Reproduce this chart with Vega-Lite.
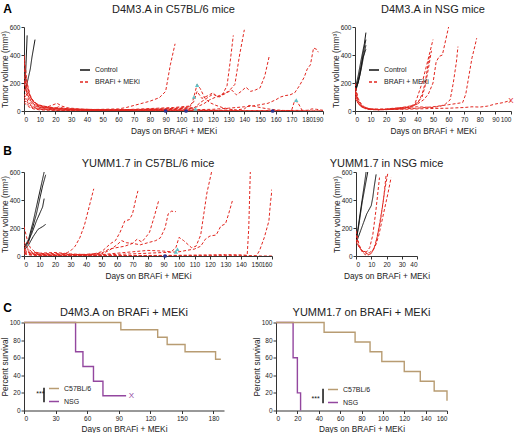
{
  "$schema": "https://vega.github.io/schema/vega-lite/v6.json",
  "padding": {"left": 0, "top": 3, "right": 0, "bottom": 0},
  "config": {
    "font": "Liberation Sans",
    "view": {"stroke": null},
    "axis": {"labelFontSize": 6.5, "titleFontSize": 8.3, "titleFontWeight": "normal", "labelColor": "#222", "titleColor": "#222", "domainColor": "#333", "tickColor": "#333", "grid": false, "tickSize": 3, "labelPadding": 2, "titlePadding": 4, "labelOverlap": false, "format": "d"},
    "axisY": {"titlePadding": 0, "labelPadding": 1},
    "title": {"fontSize": 11, "fontWeight": "normal", "color": "#222", "offset": 6},
    "legend": {"labelFontSize": 7, "labelColor": "#222", "rowPadding": 3}
  },
  "datasets": {
    "aL": [
      {"id":"c1","group":"Control","day":0,"vol":100},{"id":"c1","group":"Control","day":1,"vol":260},{"id":"c1","group":"Control","day":2,"vol":540},
      {"id":"c2","group":"Control","day":0,"vol":130},{"id":"c2","group":"Control","day":2,"vol":200},{"id":"c2","group":"Control","day":4,"vol":300},{"id":"c2","group":"Control","day":5,"vol":380},{"id":"c2","group":"Control","day":7,"vol":510},
      {"id":"r1","group":"BRAFi + MEKi","day":0,"vol":380},{"id":"r1","group":"BRAFi + MEKi","day":1,"vol":250},{"id":"r1","group":"BRAFi + MEKi","day":3,"vol":130},{"id":"r1","group":"BRAFi + MEKi","day":5,"vol":80},{"id":"r1","group":"BRAFi + MEKi","day":8,"vol":45},{"id":"r1","group":"BRAFi + MEKi","day":12,"vol":30},{"id":"r1","group":"BRAFi + MEKi","day":16,"vol":22},{"id":"r1","group":"BRAFi + MEKi","day":20,"vol":18},{"id":"r1","group":"BRAFi + MEKi","day":30,"vol":12},{"id":"r1","group":"BRAFi + MEKi","day":40,"vol":10},{"id":"r1","group":"BRAFi + MEKi","day":50,"vol":12},{"id":"r1","group":"BRAFi + MEKi","day":60,"vol":15},{"id":"r1","group":"BRAFi + MEKi","day":65,"vol":25},{"id":"r1","group":"BRAFi + MEKi","day":70,"vol":40},{"id":"r1","group":"BRAFi + MEKi","day":75,"vol":55},{"id":"r1","group":"BRAFi + MEKi","day":80,"vol":70},{"id":"r1","group":"BRAFi + MEKi","day":86,"vol":95},{"id":"r1","group":"BRAFi + MEKi","day":90,"vol":140},{"id":"r1","group":"BRAFi + MEKi","day":93,"vol":330},{"id":"r1","group":"BRAFi + MEKi","day":96,"vol":480},
      {"id":"r2","group":"BRAFi + MEKi","day":0,"vol":300},{"id":"r2","group":"BRAFi + MEKi","day":2,"vol":180},{"id":"r2","group":"BRAFi + MEKi","day":4,"vol":100},{"id":"r2","group":"BRAFi + MEKi","day":7,"vol":60},{"id":"r2","group":"BRAFi + MEKi","day":10,"vol":40},{"id":"r2","group":"BRAFi + MEKi","day":15,"vol":30},{"id":"r2","group":"BRAFi + MEKi","day":18,"vol":42},{"id":"r2","group":"BRAFi + MEKi","day":21,"vol":55},{"id":"r2","group":"BRAFi + MEKi","day":24,"vol":35},{"id":"r2","group":"BRAFi + MEKi","day":28,"vol":22},{"id":"r2","group":"BRAFi + MEKi","day":35,"vol":15},{"id":"r2","group":"BRAFi + MEKi","day":45,"vol":10},{"id":"r2","group":"BRAFi + MEKi","day":55,"vol":8},{"id":"r2","group":"BRAFi + MEKi","day":65,"vol":10},{"id":"r2","group":"BRAFi + MEKi","day":75,"vol":15},{"id":"r2","group":"BRAFi + MEKi","day":85,"vol":20},{"id":"r2","group":"BRAFi + MEKi","day":95,"vol":25},{"id":"r2","group":"BRAFi + MEKi","day":100,"vol":30},{"id":"r2","group":"BRAFi + MEKi","day":105,"vol":35},{"id":"r2","group":"BRAFi + MEKi","day":107,"vol":60},{"id":"r2","group":"BRAFi + MEKi","day":110,"vol":190},{"id":"r2","group":"BRAFi + MEKi","day":112,"vol":160},{"id":"r2","group":"BRAFi + MEKi","day":115,"vol":90},{"id":"r2","group":"BRAFi + MEKi","day":118,"vol":60},{"id":"r2","group":"BRAFi + MEKi","day":122,"vol":40},{"id":"r2","group":"BRAFi + MEKi","day":126,"vol":25},{"id":"r2","group":"BRAFi + MEKi","day":130,"vol":15},{"id":"r2","group":"BRAFi + MEKi","day":135,"vol":5},
      {"id":"r3","group":"BRAFi + MEKi","day":0,"vol":250},{"id":"r3","group":"BRAFi + MEKi","day":2,"vol":150},{"id":"r3","group":"BRAFi + MEKi","day":5,"vol":80},{"id":"r3","group":"BRAFi + MEKi","day":8,"vol":50},{"id":"r3","group":"BRAFi + MEKi","day":12,"vol":35},{"id":"r3","group":"BRAFi + MEKi","day":18,"vol":25},{"id":"r3","group":"BRAFi + MEKi","day":25,"vol":18},{"id":"r3","group":"BRAFi + MEKi","day":35,"vol":12},{"id":"r3","group":"BRAFi + MEKi","day":45,"vol":8},{"id":"r3","group":"BRAFi + MEKi","day":55,"vol":6},{"id":"r3","group":"BRAFi + MEKi","day":65,"vol":8},{"id":"r3","group":"BRAFi + MEKi","day":75,"vol":10},{"id":"r3","group":"BRAFi + MEKi","day":85,"vol":14},{"id":"r3","group":"BRAFi + MEKi","day":95,"vol":18},{"id":"r3","group":"BRAFi + MEKi","day":100,"vol":20},{"id":"r3","group":"BRAFi + MEKi","day":105,"vol":25},{"id":"r3","group":"BRAFi + MEKi","day":108,"vol":70},{"id":"r3","group":"BRAFi + MEKi","day":110,"vol":140},{"id":"r3","group":"BRAFi + MEKi","day":113,"vol":90},{"id":"r3","group":"BRAFi + MEKi","day":117,"vol":110},{"id":"r3","group":"BRAFi + MEKi","day":120,"vol":130},{"id":"r3","group":"BRAFi + MEKi","day":123,"vol":100},{"id":"r3","group":"BRAFi + MEKi","day":126,"vol":115},{"id":"r3","group":"BRAFi + MEKi","day":129,"vol":180},{"id":"r3","group":"BRAFi + MEKi","day":131,"vol":350},{"id":"r3","group":"BRAFi + MEKi","day":133,"vol":540},
      {"id":"r4","group":"BRAFi + MEKi","day":0,"vol":200},{"id":"r4","group":"BRAFi + MEKi","day":3,"vol":100},{"id":"r4","group":"BRAFi + MEKi","day":6,"vol":55},{"id":"r4","group":"BRAFi + MEKi","day":10,"vol":30},{"id":"r4","group":"BRAFi + MEKi","day":15,"vol":22},{"id":"r4","group":"BRAFi + MEKi","day":25,"vol":15},{"id":"r4","group":"BRAFi + MEKi","day":35,"vol":10},{"id":"r4","group":"BRAFi + MEKi","day":50,"vol":8},{"id":"r4","group":"BRAFi + MEKi","day":65,"vol":10},{"id":"r4","group":"BRAFi + MEKi","day":80,"vol":12},{"id":"r4","group":"BRAFi + MEKi","day":95,"vol":15},{"id":"r4","group":"BRAFi + MEKi","day":105,"vol":20},{"id":"r4","group":"BRAFi + MEKi","day":110,"vol":30},{"id":"r4","group":"BRAFi + MEKi","day":114,"vol":50},{"id":"r4","group":"BRAFi + MEKi","day":118,"vol":80},{"id":"r4","group":"BRAFi + MEKi","day":122,"vol":100},{"id":"r4","group":"BRAFi + MEKi","day":126,"vol":120},{"id":"r4","group":"BRAFi + MEKi","day":130,"vol":140},{"id":"r4","group":"BRAFi + MEKi","day":134,"vol":190},{"id":"r4","group":"BRAFi + MEKi","day":137,"vol":400},{"id":"r4","group":"BRAFi + MEKi","day":140,"vol":580},
      {"id":"r5","group":"BRAFi + MEKi","day":0,"vol":160},{"id":"r5","group":"BRAFi + MEKi","day":3,"vol":80},{"id":"r5","group":"BRAFi + MEKi","day":6,"vol":40},{"id":"r5","group":"BRAFi + MEKi","day":10,"vol":25},{"id":"r5","group":"BRAFi + MEKi","day":20,"vol":15},{"id":"r5","group":"BRAFi + MEKi","day":30,"vol":10},{"id":"r5","group":"BRAFi + MEKi","day":40,"vol":8},{"id":"r5","group":"BRAFi + MEKi","day":60,"vol":6},{"id":"r5","group":"BRAFi + MEKi","day":80,"vol":8},{"id":"r5","group":"BRAFi + MEKi","day":100,"vol":12},{"id":"r5","group":"BRAFi + MEKi","day":108,"vol":20},{"id":"r5","group":"BRAFi + MEKi","day":112,"vol":60},{"id":"r5","group":"BRAFi + MEKi","day":116,"vol":90},{"id":"r5","group":"BRAFi + MEKi","day":120,"vol":120},{"id":"r5","group":"BRAFi + MEKi","day":124,"vol":100},{"id":"r5","group":"BRAFi + MEKi","day":128,"vol":125},{"id":"r5","group":"BRAFi + MEKi","day":132,"vol":150},{"id":"r5","group":"BRAFi + MEKi","day":135,"vol":115},{"id":"r5","group":"BRAFi + MEKi","day":138,"vol":140},{"id":"r5","group":"BRAFi + MEKi","day":141,"vol":170},{"id":"r5","group":"BRAFi + MEKi","day":144,"vol":140},{"id":"r5","group":"BRAFi + MEKi","day":147,"vol":150},{"id":"r5","group":"BRAFi + MEKi","day":150,"vol":165},{"id":"r5","group":"BRAFi + MEKi","day":153,"vol":250},{"id":"r5","group":"BRAFi + MEKi","day":156,"vol":400},
      {"id":"r6","group":"BRAFi + MEKi","day":0,"vol":120},{"id":"r6","group":"BRAFi + MEKi","day":3,"vol":60},{"id":"r6","group":"BRAFi + MEKi","day":6,"vol":30},{"id":"r6","group":"BRAFi + MEKi","day":10,"vol":18},{"id":"r6","group":"BRAFi + MEKi","day":20,"vol":10},{"id":"r6","group":"BRAFi + MEKi","day":30,"vol":8},{"id":"r6","group":"BRAFi + MEKi","day":40,"vol":6},{"id":"r6","group":"BRAFi + MEKi","day":60,"vol":5},{"id":"r6","group":"BRAFi + MEKi","day":80,"vol":6},{"id":"r6","group":"BRAFi + MEKi","day":100,"vol":8},{"id":"r6","group":"BRAFi + MEKi","day":110,"vol":10},{"id":"r6","group":"BRAFi + MEKi","day":120,"vol":12},{"id":"r6","group":"BRAFi + MEKi","day":130,"vol":20},{"id":"r6","group":"BRAFi + MEKi","day":140,"vol":30},{"id":"r6","group":"BRAFi + MEKi","day":145,"vol":35},{"id":"r6","group":"BRAFi + MEKi","day":150,"vol":45},{"id":"r6","group":"BRAFi + MEKi","day":155,"vol":55},{"id":"r6","group":"BRAFi + MEKi","day":160,"vol":80},{"id":"r6","group":"BRAFi + MEKi","day":163,"vol":100},{"id":"r6","group":"BRAFi + MEKi","day":166,"vol":110},{"id":"r6","group":"BRAFi + MEKi","day":169,"vol":115},{"id":"r6","group":"BRAFi + MEKi","day":172,"vol":130},{"id":"r6","group":"BRAFi + MEKi","day":175,"vol":180},{"id":"r6","group":"BRAFi + MEKi","day":178,"vol":240},{"id":"r6","group":"BRAFi + MEKi","day":180,"vol":300},{"id":"r6","group":"BRAFi + MEKi","day":182,"vol":330},{"id":"r6","group":"BRAFi + MEKi","day":184,"vol":450},{"id":"r6","group":"BRAFi + MEKi","day":186,"vol":440},{"id":"r6","group":"BRAFi + MEKi","day":187,"vol":420},
      {"id":"r7","group":"BRAFi + MEKi","day":0,"vol":100},{"id":"r7","group":"BRAFi + MEKi","day":3,"vol":50},{"id":"r7","group":"BRAFi + MEKi","day":6,"vol":25},{"id":"r7","group":"BRAFi + MEKi","day":10,"vol":15},{"id":"r7","group":"BRAFi + MEKi","day":20,"vol":8},{"id":"r7","group":"BRAFi + MEKi","day":40,"vol":5},{"id":"r7","group":"BRAFi + MEKi","day":60,"vol":4},{"id":"r7","group":"BRAFi + MEKi","day":80,"vol":5},{"id":"r7","group":"BRAFi + MEKi","day":100,"vol":6},{"id":"r7","group":"BRAFi + MEKi","day":120,"vol":5},{"id":"r7","group":"BRAFi + MEKi","day":135,"vol":8},{"id":"r7","group":"BRAFi + MEKi","day":140,"vol":15},{"id":"r7","group":"BRAFi + MEKi","day":143,"vol":40},{"id":"r7","group":"BRAFi + MEKi","day":146,"vol":35},{"id":"r7","group":"BRAFi + MEKi","day":150,"vol":25},{"id":"r7","group":"BRAFi + MEKi","day":155,"vol":15},{"id":"r7","group":"BRAFi + MEKi","day":160,"vol":8},{"id":"r7","group":"BRAFi + MEKi","day":165,"vol":4},{"id":"r7","group":"BRAFi + MEKi","day":170,"vol":3},{"id":"r7","group":"BRAFi + MEKi","day":172,"vol":75},{"id":"r7","group":"BRAFi + MEKi","day":174,"vol":60},{"id":"r7","group":"BRAFi + MEKi","day":177,"vol":0},
      {"id":"r8","group":"BRAFi + MEKi","day":0,"vol":80},{"id":"r8","group":"BRAFi + MEKi","day":3,"vol":40},{"id":"r8","group":"BRAFi + MEKi","day":6,"vol":20},{"id":"r8","group":"BRAFi + MEKi","day":10,"vol":12},{"id":"r8","group":"BRAFi + MEKi","day":20,"vol":6},{"id":"r8","group":"BRAFi + MEKi","day":40,"vol":4},{"id":"r8","group":"BRAFi + MEKi","day":60,"vol":3},{"id":"r8","group":"BRAFi + MEKi","day":80,"vol":4},{"id":"r8","group":"BRAFi + MEKi","day":100,"vol":3},{"id":"r8","group":"BRAFi + MEKi","day":120,"vol":3},{"id":"r8","group":"BRAFi + MEKi","day":140,"vol":2},{"id":"r8","group":"BRAFi + MEKi","day":160,"vol":3},{"id":"r8","group":"BRAFi + MEKi","day":180,"vol":5},{"id":"r8","group":"BRAFi + MEKi","day":183,"vol":15},{"id":"r8","group":"BRAFi + MEKi","day":186,"vol":12},{"id":"r8","group":"BRAFi + MEKi","day":190,"vol":5},
      {"id":"r9","group":"BRAFi + MEKi","day":0,"vol":60},{"id":"r9","group":"BRAFi + MEKi","day":3,"vol":30},{"id":"r9","group":"BRAFi + MEKi","day":6,"vol":15},{"id":"r9","group":"BRAFi + MEKi","day":10,"vol":8},{"id":"r9","group":"BRAFi + MEKi","day":20,"vol":4},{"id":"r9","group":"BRAFi + MEKi","day":40,"vol":3},{"id":"r9","group":"BRAFi + MEKi","day":60,"vol":2},{"id":"r9","group":"BRAFi + MEKi","day":80,"vol":3},{"id":"r9","group":"BRAFi + MEKi","day":100,"vol":2},{"id":"r9","group":"BRAFi + MEKi","day":140,"vol":2},{"id":"r9","group":"BRAFi + MEKi","day":160,"vol":1},{"id":"r9","group":"BRAFi + MEKi","day":190,"vol":1},
      {"id":"r10","group":"BRAFi + MEKi","day":0,"vol":220},{"id":"r10","group":"BRAFi + MEKi","day":2,"vol":120},{"id":"r10","group":"BRAFi + MEKi","day":5,"vol":60},{"id":"r10","group":"BRAFi + MEKi","day":8,"vol":35},{"id":"r10","group":"BRAFi + MEKi","day":12,"vol":25},{"id":"r10","group":"BRAFi + MEKi","day":20,"vol":20},{"id":"r10","group":"BRAFi + MEKi","day":22,"vol":30},{"id":"r10","group":"BRAFi + MEKi","day":25,"vol":20},{"id":"r10","group":"BRAFi + MEKi","day":30,"vol":12},{"id":"r10","group":"BRAFi + MEKi","day":40,"vol":8},{"id":"r10","group":"BRAFi + MEKi","day":50,"vol":5},{"id":"r10","group":"BRAFi + MEKi","day":60,"vol":4},{"id":"r10","group":"BRAFi + MEKi","day":70,"vol":6},{"id":"r10","group":"BRAFi + MEKi","day":80,"vol":10},{"id":"r10","group":"BRAFi + MEKi","day":90,"vol":15},{"id":"r10","group":"BRAFi + MEKi","day":95,"vol":20},{"id":"r10","group":"BRAFi + MEKi","day":100,"vol":25},{"id":"r10","group":"BRAFi + MEKi","day":105,"vol":30},{"id":"r10","group":"BRAFi + MEKi","day":108,"vol":10},{"id":"r10","group":"BRAFi + MEKi","day":110,"vol":0},
      {"id":"r11","group":"BRAFi + MEKi","day":0,"vol":400},{"id":"r11","group":"BRAFi + MEKi","day":1,"vol":300},{"id":"r11","group":"BRAFi + MEKi","day":2,"vol":200},{"id":"r11","group":"BRAFi + MEKi","day":4,"vol":110},{"id":"r11","group":"BRAFi + MEKi","day":6,"vol":70},{"id":"r11","group":"BRAFi + MEKi","day":9,"vol":45},{"id":"r11","group":"BRAFi + MEKi","day":13,"vol":30},{"id":"r11","group":"BRAFi + MEKi","day":20,"vol":20},{"id":"r11","group":"BRAFi + MEKi","day":30,"vol":14},{"id":"r11","group":"BRAFi + MEKi","day":40,"vol":12},{"id":"r11","group":"BRAFi + MEKi","day":50,"vol":10},{"id":"r11","group":"BRAFi + MEKi","day":60,"vol":8},{"id":"r11","group":"BRAFi + MEKi","day":70,"vol":10},{"id":"r11","group":"BRAFi + MEKi","day":80,"vol":12},{"id":"r11","group":"BRAFi + MEKi","day":90,"vol":10},{"id":"r11","group":"BRAFi + MEKi","day":100,"vol":6},{"id":"r11","group":"BRAFi + MEKi","day":110,"vol":4},{"id":"r11","group":"BRAFi + MEKi","day":130,"vol":2},{"id":"r11","group":"BRAFi + MEKi","day":150,"vol":1},{"id":"r11","group":"BRAFi + MEKi","day":190,"vol":0}
    ],
    "aLm": [
      {"kind":"cyan","day":108,"vol":100},{"kind":"cyan","day":110,"vol":185},{"kind":"cyan","day":109,"vol":15},{"kind":"cyan","day":173,"vol":78},
      {"kind":"blue","day":90,"vol":0},{"kind":"blue","day":103,"vol":0},{"kind":"blue","day":158,"vol":0}
    ],
    "aR": [
      {"id":"k1","group":"Control","day":0,"vol":150},{"id":"k1","group":"Control","day":2,"vol":250},{"id":"k1","group":"Control","day":4,"vol":370},{"id":"k1","group":"Control","day":6,"vol":480},{"id":"k1","group":"Control","day":7,"vol":560},
      {"id":"k2","group":"Control","day":0,"vol":130},{"id":"k2","group":"Control","day":2,"vol":220},{"id":"k2","group":"Control","day":4,"vol":330},{"id":"k2","group":"Control","day":5,"vol":400},{"id":"k2","group":"Control","day":7,"vol":510},
      {"id":"k3","group":"Control","day":0,"vol":120},{"id":"k3","group":"Control","day":3,"vol":250},{"id":"k3","group":"Control","day":5,"vol":380},{"id":"k3","group":"Control","day":7,"vol":440},
      {"id":"k4","group":"Control","day":0,"vol":140},{"id":"k4","group":"Control","day":2,"vol":200},{"id":"k4","group":"Control","day":4,"vol":300},{"id":"k4","group":"Control","day":6,"vol":420},{"id":"k4","group":"Control","day":7,"vol":470},
      {"id":"s1","group":"BRAFi + MEKi","day":0,"vol":200},{"id":"s1","group":"BRAFi + MEKi","day":1,"vol":140},{"id":"s1","group":"BRAFi + MEKi","day":2,"vol":90},{"id":"s1","group":"BRAFi + MEKi","day":4,"vol":50},{"id":"s1","group":"BRAFi + MEKi","day":6,"vol":30},{"id":"s1","group":"BRAFi + MEKi","day":8,"vol":20},{"id":"s1","group":"BRAFi + MEKi","day":10,"vol":15},{"id":"s1","group":"BRAFi + MEKi","day":15,"vol":10},{"id":"s1","group":"BRAFi + MEKi","day":20,"vol":12},{"id":"s1","group":"BRAFi + MEKi","day":25,"vol":15},{"id":"s1","group":"BRAFi + MEKi","day":30,"vol":20},{"id":"s1","group":"BRAFi + MEKi","day":35,"vol":25},{"id":"s1","group":"BRAFi + MEKi","day":38,"vol":40},{"id":"s1","group":"BRAFi + MEKi","day":40,"vol":100},{"id":"s1","group":"BRAFi + MEKi","day":43,"vol":200},{"id":"s1","group":"BRAFi + MEKi","day":46,"vol":330},{"id":"s1","group":"BRAFi + MEKi","day":48,"vol":420},{"id":"s1","group":"BRAFi + MEKi","day":50,"vol":510},
      {"id":"s2","group":"BRAFi + MEKi","day":0,"vol":170},{"id":"s2","group":"BRAFi + MEKi","day":2,"vol":80},{"id":"s2","group":"BRAFi + MEKi","day":4,"vol":40},{"id":"s2","group":"BRAFi + MEKi","day":7,"vol":20},{"id":"s2","group":"BRAFi + MEKi","day":10,"vol":12},{"id":"s2","group":"BRAFi + MEKi","day":15,"vol":8},{"id":"s2","group":"BRAFi + MEKi","day":20,"vol":10},{"id":"s2","group":"BRAFi + MEKi","day":25,"vol":15},{"id":"s2","group":"BRAFi + MEKi","day":30,"vol":20},{"id":"s2","group":"BRAFi + MEKi","day":35,"vol":30},{"id":"s2","group":"BRAFi + MEKi","day":40,"vol":60},{"id":"s2","group":"BRAFi + MEKi","day":43,"vol":100},{"id":"s2","group":"BRAFi + MEKi","day":45,"vol":180},{"id":"s2","group":"BRAFi + MEKi","day":47,"vol":300},{"id":"s2","group":"BRAFi + MEKi","day":49,"vol":430},
      {"id":"s3","group":"BRAFi + MEKi","day":0,"vol":150},{"id":"s3","group":"BRAFi + MEKi","day":2,"vol":70},{"id":"s3","group":"BRAFi + MEKi","day":4,"vol":35},{"id":"s3","group":"BRAFi + MEKi","day":7,"vol":15},{"id":"s3","group":"BRAFi + MEKi","day":10,"vol":10},{"id":"s3","group":"BRAFi + MEKi","day":15,"vol":8},{"id":"s3","group":"BRAFi + MEKi","day":20,"vol":12},{"id":"s3","group":"BRAFi + MEKi","day":25,"vol":18},{"id":"s3","group":"BRAFi + MEKi","day":30,"vol":25},{"id":"s3","group":"BRAFi + MEKi","day":35,"vol":35},{"id":"s3","group":"BRAFi + MEKi","day":40,"vol":50},{"id":"s3","group":"BRAFi + MEKi","day":44,"vol":80},{"id":"s3","group":"BRAFi + MEKi","day":47,"vol":120},{"id":"s3","group":"BRAFi + MEKi","day":50,"vol":200},{"id":"s3","group":"BRAFi + MEKi","day":52,"vol":350},{"id":"s3","group":"BRAFi + MEKi","day":54,"vol":390},{"id":"s3","group":"BRAFi + MEKi","day":56,"vol":400},{"id":"s3","group":"BRAFi + MEKi","day":58,"vol":500},{"id":"s3","group":"BRAFi + MEKi","day":60,"vol":600},
      {"id":"s4","group":"BRAFi + MEKi","day":0,"vol":130},{"id":"s4","group":"BRAFi + MEKi","day":2,"vol":60},{"id":"s4","group":"BRAFi + MEKi","day":4,"vol":30},{"id":"s4","group":"BRAFi + MEKi","day":8,"vol":15},{"id":"s4","group":"BRAFi + MEKi","day":12,"vol":10},{"id":"s4","group":"BRAFi + MEKi","day":20,"vol":15},{"id":"s4","group":"BRAFi + MEKi","day":30,"vol":25},{"id":"s4","group":"BRAFi + MEKi","day":40,"vol":30},{"id":"s4","group":"BRAFi + MEKi","day":50,"vol":25},{"id":"s4","group":"BRAFi + MEKi","day":55,"vol":35},{"id":"s4","group":"BRAFi + MEKi","day":58,"vol":50},{"id":"s4","group":"BRAFi + MEKi","day":61,"vol":80},{"id":"s4","group":"BRAFi + MEKi","day":63,"vol":200},{"id":"s4","group":"BRAFi + MEKi","day":65,"vol":350},{"id":"s4","group":"BRAFi + MEKi","day":66,"vol":460},
      {"id":"s5","group":"BRAFi + MEKi","day":0,"vol":110},{"id":"s5","group":"BRAFi + MEKi","day":2,"vol":50},{"id":"s5","group":"BRAFi + MEKi","day":5,"vol":25},{"id":"s5","group":"BRAFi + MEKi","day":10,"vol":12},{"id":"s5","group":"BRAFi + MEKi","day":20,"vol":10},{"id":"s5","group":"BRAFi + MEKi","day":30,"vol":15},{"id":"s5","group":"BRAFi + MEKi","day":40,"vol":20},{"id":"s5","group":"BRAFi + MEKi","day":50,"vol":30},{"id":"s5","group":"BRAFi + MEKi","day":60,"vol":45},{"id":"s5","group":"BRAFi + MEKi","day":66,"vol":55},{"id":"s5","group":"BRAFi + MEKi","day":69,"vol":60},{"id":"s5","group":"BRAFi + MEKi","day":71,"vol":120},{"id":"s5","group":"BRAFi + MEKi","day":73,"vol":250},{"id":"s5","group":"BRAFi + MEKi","day":75,"vol":380},{"id":"s5","group":"BRAFi + MEKi","day":77,"vol":470},{"id":"s5","group":"BRAFi + MEKi","day":78,"vol":520},
      {"id":"s6","group":"BRAFi + MEKi","day":0,"vol":90},{"id":"s6","group":"BRAFi + MEKi","day":3,"vol":40},{"id":"s6","group":"BRAFi + MEKi","day":6,"vol":20},{"id":"s6","group":"BRAFi + MEKi","day":10,"vol":12},{"id":"s6","group":"BRAFi + MEKi","day":20,"vol":10},{"id":"s6","group":"BRAFi + MEKi","day":30,"vol":12},{"id":"s6","group":"BRAFi + MEKi","day":40,"vol":15},{"id":"s6","group":"BRAFi + MEKi","day":50,"vol":18},{"id":"s6","group":"BRAFi + MEKi","day":60,"vol":20},{"id":"s6","group":"BRAFi + MEKi","day":70,"vol":25},{"id":"s6","group":"BRAFi + MEKi","day":75,"vol":30},{"id":"s6","group":"BRAFi + MEKi","day":80,"vol":28},{"id":"s6","group":"BRAFi + MEKi","day":85,"vol":35},{"id":"s6","group":"BRAFi + MEKi","day":90,"vol":50},{"id":"s6","group":"BRAFi + MEKi","day":95,"vol":60},{"id":"s6","group":"BRAFi + MEKi","day":98,"vol":70},{"id":"s6","group":"BRAFi + MEKi","day":100,"vol":71},
      {"id":"s7","group":"BRAFi + MEKi","day":0,"vol":140},{"id":"s7","group":"BRAFi + MEKi","day":2,"vol":70},{"id":"s7","group":"BRAFi + MEKi","day":5,"vol":30},{"id":"s7","group":"BRAFi + MEKi","day":10,"vol":15},{"id":"s7","group":"BRAFi + MEKi","day":20,"vol":12},{"id":"s7","group":"BRAFi + MEKi","day":30,"vol":18},{"id":"s7","group":"BRAFi + MEKi","day":35,"vol":28},{"id":"s7","group":"BRAFi + MEKi","day":40,"vol":50},{"id":"s7","group":"BRAFi + MEKi","day":43,"vol":120},{"id":"s7","group":"BRAFi + MEKi","day":45,"vol":200},{"id":"s7","group":"BRAFi + MEKi","day":47,"vol":350},{"id":"s7","group":"BRAFi + MEKi","day":48,"vol":410}
    ],
    "aRx": [{"day":100,"vol":71,"label":"X"}],
    "bL": [
      {"id":"k1","group":"Control","day":0,"vol":60},{"id":"k1","group":"Control","day":3,"vol":120},{"id":"k1","group":"Control","day":6,"vol":250},{"id":"k1","group":"Control","day":9,"vol":400},{"id":"k1","group":"Control","day":12,"vol":550},{"id":"k1","group":"Control","day":13,"vol":600},
      {"id":"k2","group":"Control","day":0,"vol":50},{"id":"k2","group":"Control","day":3,"vol":100},{"id":"k2","group":"Control","day":5,"vol":180},{"id":"k2","group":"Control","day":8,"vol":300},{"id":"k2","group":"Control","day":10,"vol":400},{"id":"k2","group":"Control","day":12,"vol":500},{"id":"k2","group":"Control","day":14,"vol":580},
      {"id":"k3","group":"Control","day":0,"vol":70},{"id":"k3","group":"Control","day":2,"vol":90},{"id":"k3","group":"Control","day":5,"vol":160},{"id":"k3","group":"Control","day":8,"vol":250},{"id":"k3","group":"Control","day":10,"vol":300},{"id":"k3","group":"Control","day":12,"vol":350},{"id":"k3","group":"Control","day":13,"vol":410},
      {"id":"k4","group":"Control","day":0,"vol":40},{"id":"k4","group":"Control","day":3,"vol":80},{"id":"k4","group":"Control","day":6,"vol":140},{"id":"k4","group":"Control","day":9,"vol":190},{"id":"k4","group":"Control","day":12,"vol":210},{"id":"k4","group":"Control","day":14,"vol":226},
      {"id":"b1","group":"BRAFi + MEKi","day":0,"vol":210},{"id":"b1","group":"BRAFi + MEKi","day":2,"vol":120},{"id":"b1","group":"BRAFi + MEKi","day":4,"vol":60},{"id":"b1","group":"BRAFi + MEKi","day":7,"vol":30},{"id":"b1","group":"BRAFi + MEKi","day":10,"vol":20},{"id":"b1","group":"BRAFi + MEKi","day":15,"vol":15},{"id":"b1","group":"BRAFi + MEKi","day":20,"vol":12},{"id":"b1","group":"BRAFi + MEKi","day":25,"vol":15},{"id":"b1","group":"BRAFi + MEKi","day":28,"vol":25},{"id":"b1","group":"BRAFi + MEKi","day":30,"vol":36},{"id":"b1","group":"BRAFi + MEKi","day":33,"vol":70},{"id":"b1","group":"BRAFi + MEKi","day":36,"vol":130},{"id":"b1","group":"BRAFi + MEKi","day":39,"vol":220},{"id":"b1","group":"BRAFi + MEKi","day":42,"vol":350},{"id":"b1","group":"BRAFi + MEKi","day":45,"vol":480},
      {"id":"b2","group":"BRAFi + MEKi","day":0,"vol":100},{"id":"b2","group":"BRAFi + MEKi","day":2,"vol":60},{"id":"b2","group":"BRAFi + MEKi","day":5,"vol":30},{"id":"b2","group":"BRAFi + MEKi","day":10,"vol":20},{"id":"b2","group":"BRAFi + MEKi","day":20,"vol":25},{"id":"b2","group":"BRAFi + MEKi","day":25,"vol":20},{"id":"b2","group":"BRAFi + MEKi","day":30,"vol":15},{"id":"b2","group":"BRAFi + MEKi","day":40,"vol":10},{"id":"b2","group":"BRAFi + MEKi","day":45,"vol":15},{"id":"b2","group":"BRAFi + MEKi","day":50,"vol":30},{"id":"b2","group":"BRAFi + MEKi","day":53,"vol":60},{"id":"b2","group":"BRAFi + MEKi","day":56,"vol":90},{"id":"b2","group":"BRAFi + MEKi","day":59,"vol":110},{"id":"b2","group":"BRAFi + MEKi","day":62,"vol":170},{"id":"b2","group":"BRAFi + MEKi","day":65,"vol":250},{"id":"b2","group":"BRAFi + MEKi","day":68,"vol":260},{"id":"b2","group":"BRAFi + MEKi","day":70,"vol":300},{"id":"b2","group":"BRAFi + MEKi","day":72,"vol":400},{"id":"b2","group":"BRAFi + MEKi","day":73.5,"vol":465},
      {"id":"b3","group":"BRAFi + MEKi","day":0,"vol":80},{"id":"b3","group":"BRAFi + MEKi","day":3,"vol":40},{"id":"b3","group":"BRAFi + MEKi","day":6,"vol":20},{"id":"b3","group":"BRAFi + MEKi","day":10,"vol":15},{"id":"b3","group":"BRAFi + MEKi","day":20,"vol":18},{"id":"b3","group":"BRAFi + MEKi","day":30,"vol":12},{"id":"b3","group":"BRAFi + MEKi","day":40,"vol":8},{"id":"b3","group":"BRAFi + MEKi","day":50,"vol":15},{"id":"b3","group":"BRAFi + MEKi","day":55,"vol":40},{"id":"b3","group":"BRAFi + MEKi","day":60,"vol":80},{"id":"b3","group":"BRAFi + MEKi","day":63,"vol":110},{"id":"b3","group":"BRAFi + MEKi","day":66,"vol":95},{"id":"b3","group":"BRAFi + MEKi","day":70,"vol":90},{"id":"b3","group":"BRAFi + MEKi","day":73,"vol":120},{"id":"b3","group":"BRAFi + MEKi","day":76,"vol":100},{"id":"b3","group":"BRAFi + MEKi","day":79,"vol":140},{"id":"b3","group":"BRAFi + MEKi","day":81,"vol":170},{"id":"b3","group":"BRAFi + MEKi","day":84,"vol":280},{"id":"b3","group":"BRAFi + MEKi","day":87,"vol":400},
      {"id":"b4","group":"BRAFi + MEKi","day":0,"vol":60},{"id":"b4","group":"BRAFi + MEKi","day":3,"vol":30},{"id":"b4","group":"BRAFi + MEKi","day":6,"vol":15},{"id":"b4","group":"BRAFi + MEKi","day":10,"vol":10},{"id":"b4","group":"BRAFi + MEKi","day":20,"vol":8},{"id":"b4","group":"BRAFi + MEKi","day":30,"vol":10},{"id":"b4","group":"BRAFi + MEKi","day":40,"vol":12},{"id":"b4","group":"BRAFi + MEKi","day":50,"vol":20},{"id":"b4","group":"BRAFi + MEKi","day":55,"vol":50},{"id":"b4","group":"BRAFi + MEKi","day":60,"vol":60},{"id":"b4","group":"BRAFi + MEKi","day":65,"vol":70},{"id":"b4","group":"BRAFi + MEKi","day":70,"vol":90},{"id":"b4","group":"BRAFi + MEKi","day":75,"vol":80},{"id":"b4","group":"BRAFi + MEKi","day":80,"vol":95},{"id":"b4","group":"BRAFi + MEKi","day":85,"vol":110},{"id":"b4","group":"BRAFi + MEKi","day":88,"vol":130},{"id":"b4","group":"BRAFi + MEKi","day":91,"vol":200},{"id":"b4","group":"BRAFi + MEKi","day":93,"vol":300},{"id":"b4","group":"BRAFi + MEKi","day":95,"vol":320},{"id":"b4","group":"BRAFi + MEKi","day":98,"vol":317},
      {"id":"b5","group":"BRAFi + MEKi","day":0,"vol":50},{"id":"b5","group":"BRAFi + MEKi","day":3,"vol":25},{"id":"b5","group":"BRAFi + MEKi","day":6,"vol":12},{"id":"b5","group":"BRAFi + MEKi","day":10,"vol":8},{"id":"b5","group":"BRAFi + MEKi","day":20,"vol":6},{"id":"b5","group":"BRAFi + MEKi","day":30,"vol":8},{"id":"b5","group":"BRAFi + MEKi","day":40,"vol":5},{"id":"b5","group":"BRAFi + MEKi","day":50,"vol":10},{"id":"b5","group":"BRAFi + MEKi","day":60,"vol":20},{"id":"b5","group":"BRAFi + MEKi","day":70,"vol":30},{"id":"b5","group":"BRAFi + MEKi","day":80,"vol":40},{"id":"b5","group":"BRAFi + MEKi","day":90,"vol":35},{"id":"b5","group":"BRAFi + MEKi","day":95,"vol":30},{"id":"b5","group":"BRAFi + MEKi","day":98,"vol":60},{"id":"b5","group":"BRAFi + MEKi","day":100,"vol":133},{"id":"b5","group":"BRAFi + MEKi","day":103,"vol":110},{"id":"b5","group":"BRAFi + MEKi","day":106,"vol":80},{"id":"b5","group":"BRAFi + MEKi","day":108,"vol":60},{"id":"b5","group":"BRAFi + MEKi","day":111,"vol":70},{"id":"b5","group":"BRAFi + MEKi","day":114,"vol":150},{"id":"b5","group":"BRAFi + MEKi","day":116,"vol":300},{"id":"b5","group":"BRAFi + MEKi","day":118,"vol":450},{"id":"b5","group":"BRAFi + MEKi","day":121,"vol":600},
      {"id":"b6","group":"BRAFi + MEKi","day":0,"vol":40},{"id":"b6","group":"BRAFi + MEKi","day":4,"vol":20},{"id":"b6","group":"BRAFi + MEKi","day":8,"vol":10},{"id":"b6","group":"BRAFi + MEKi","day":15,"vol":6},{"id":"b6","group":"BRAFi + MEKi","day":30,"vol":5},{"id":"b6","group":"BRAFi + MEKi","day":50,"vol":8},{"id":"b6","group":"BRAFi + MEKi","day":70,"vol":15},{"id":"b6","group":"BRAFi + MEKi","day":80,"vol":20},{"id":"b6","group":"BRAFi + MEKi","day":90,"vol":25},{"id":"b6","group":"BRAFi + MEKi","day":100,"vol":30},{"id":"b6","group":"BRAFi + MEKi","day":105,"vol":40},{"id":"b6","group":"BRAFi + MEKi","day":110,"vol":50},{"id":"b6","group":"BRAFi + MEKi","day":114,"vol":70},{"id":"b6","group":"BRAFi + MEKi","day":117,"vol":120},{"id":"b6","group":"BRAFi + MEKi","day":120,"vol":143},{"id":"b6","group":"BRAFi + MEKi","day":124,"vol":150},{"id":"b6","group":"BRAFi + MEKi","day":127,"vol":214},{"id":"b6","group":"BRAFi + MEKi","day":130,"vol":230},{"id":"b6","group":"BRAFi + MEKi","day":132,"vol":300},{"id":"b6","group":"BRAFi + MEKi","day":134.4,"vol":393},
      {"id":"b7","group":"BRAFi + MEKi","day":0,"vol":30},{"id":"b7","group":"BRAFi + MEKi","day":4,"vol":15},{"id":"b7","group":"BRAFi + MEKi","day":8,"vol":8},{"id":"b7","group":"BRAFi + MEKi","day":20,"vol":5},{"id":"b7","group":"BRAFi + MEKi","day":40,"vol":4},{"id":"b7","group":"BRAFi + MEKi","day":60,"vol":3},{"id":"b7","group":"BRAFi + MEKi","day":80,"vol":4},{"id":"b7","group":"BRAFi + MEKi","day":100,"vol":5},{"id":"b7","group":"BRAFi + MEKi","day":120,"vol":8},{"id":"b7","group":"BRAFi + MEKi","day":130,"vol":10},{"id":"b7","group":"BRAFi + MEKi","day":140,"vol":8},{"id":"b7","group":"BRAFi + MEKi","day":144,"vol":5},{"id":"b7","group":"BRAFi + MEKi","day":145,"vol":200},{"id":"b7","group":"BRAFi + MEKi","day":146,"vol":600},
      {"id":"b8","group":"BRAFi + MEKi","day":0,"vol":20},{"id":"b8","group":"BRAFi + MEKi","day":4,"vol":10},{"id":"b8","group":"BRAFi + MEKi","day":10,"vol":5},{"id":"b8","group":"BRAFi + MEKi","day":30,"vol":3},{"id":"b8","group":"BRAFi + MEKi","day":60,"vol":2},{"id":"b8","group":"BRAFi + MEKi","day":90,"vol":2},{"id":"b8","group":"BRAFi + MEKi","day":120,"vol":2},{"id":"b8","group":"BRAFi + MEKi","day":140,"vol":2},{"id":"b8","group":"BRAFi + MEKi","day":150,"vol":2},{"id":"b8","group":"BRAFi + MEKi","day":152,"vol":40},{"id":"b8","group":"BRAFi + MEKi","day":155,"vol":131},{"id":"b8","group":"BRAFi + MEKi","day":158,"vol":250},{"id":"b8","group":"BRAFi + MEKi","day":159,"vol":380},{"id":"b8","group":"BRAFi + MEKi","day":160,"vol":476},
      {"id":"b9","group":"BRAFi + MEKi","day":0,"vol":15},{"id":"b9","group":"BRAFi + MEKi","day":5,"vol":5},{"id":"b9","group":"BRAFi + MEKi","day":20,"vol":2},{"id":"b9","group":"BRAFi + MEKi","day":160,"vol":0}
    ],
    "bLm": [
      {"kind":"cyan","day":99,"vol":48},{"kind":"cyan","day":98,"vol":30},{"kind":"blue","day":91,"vol":0}
    ],
    "bR": [
      {"id":"k1","group":"Control","day":0,"vol":95},{"id":"k1","group":"Control","day":2,"vol":250},{"id":"k1","group":"Control","day":4,"vol":400},{"id":"k1","group":"Control","day":6,"vol":550},{"id":"k1","group":"Control","day":6.6,"vol":600},
      {"id":"k2","group":"Control","day":0,"vol":100},{"id":"k2","group":"Control","day":2,"vol":230},{"id":"k2","group":"Control","day":4,"vol":380},{"id":"k2","group":"Control","day":6,"vol":500},{"id":"k2","group":"Control","day":7.7,"vol":600},
      {"id":"k3","group":"Control","day":0,"vol":90},{"id":"k3","group":"Control","day":3,"vol":180},{"id":"k3","group":"Control","day":5,"vol":240},{"id":"k3","group":"Control","day":7,"vol":300},{"id":"k3","group":"Control","day":9,"vol":340},{"id":"k3","group":"Control","day":10,"vol":360},{"id":"k3","group":"Control","day":11,"vol":417},{"id":"k3","group":"Control","day":12,"vol":500},{"id":"k3","group":"Control","day":13.2,"vol":583},
      {"id":"q1","group":"BRAFi + MEKi","day":0,"vol":180},{"id":"q1","group":"BRAFi + MEKi","day":2,"vol":80},{"id":"q1","group":"BRAFi + MEKi","day":4,"vol":35},{"id":"q1","group":"BRAFi + MEKi","day":5.5,"vol":24},{"id":"q1","group":"BRAFi + MEKi","day":7,"vol":30},{"id":"q1","group":"BRAFi + MEKi","day":9,"vol":60},{"id":"q1","group":"BRAFi + MEKi","day":11,"vol":150},{"id":"q1","group":"BRAFi + MEKi","day":13,"vol":320},{"id":"q1","group":"BRAFi + MEKi","day":15.4,"vol":560},
      {"id":"q2","group":"BRAFi + MEKi","day":0,"vol":150},{"id":"q2","group":"BRAFi + MEKi","day":2,"vol":70},{"id":"q2","group":"BRAFi + MEKi","day":4,"vol":30},{"id":"q2","group":"BRAFi + MEKi","day":6,"vol":10},{"id":"q2","group":"BRAFi + MEKi","day":7.7,"vol":5},{"id":"q2","group":"BRAFi + MEKi","day":10,"vol":20},{"id":"q2","group":"BRAFi + MEKi","day":12,"vol":60},{"id":"q2","group":"BRAFi + MEKi","day":14,"vol":140},{"id":"q2","group":"BRAFi + MEKi","day":16,"vol":250},{"id":"q2","group":"BRAFi + MEKi","day":18,"vol":400},{"id":"q2","group":"BRAFi + MEKi","day":19.8,"vol":583},
      {"id":"q3","group":"BRAFi + MEKi","day":0,"vol":120},{"id":"q3","group":"BRAFi + MEKi","day":2,"vol":60},{"id":"q3","group":"BRAFi + MEKi","day":4,"vol":40},{"id":"q3","group":"BRAFi + MEKi","day":6,"vol":30},{"id":"q3","group":"BRAFi + MEKi","day":8.8,"vol":24},{"id":"q3","group":"BRAFi + MEKi","day":11,"vol":40},{"id":"q3","group":"BRAFi + MEKi","day":13,"vol":80},{"id":"q3","group":"BRAFi + MEKi","day":15,"vol":150},{"id":"q3","group":"BRAFi + MEKi","day":17,"vol":250},{"id":"q3","group":"BRAFi + MEKi","day":19,"vol":350},{"id":"q3","group":"BRAFi + MEKi","day":21,"vol":450},{"id":"q3","group":"BRAFi + MEKi","day":23,"vol":560},
      {"id":"q4","group":"BRAFi + MEKi","day":0,"vol":100},{"id":"q4","group":"BRAFi + MEKi","day":3,"vol":50},{"id":"q4","group":"BRAFi + MEKi","day":6,"vol":20},{"id":"q4","group":"BRAFi + MEKi","day":9,"vol":10},{"id":"q4","group":"BRAFi + MEKi","day":11,"vol":30},{"id":"q4","group":"BRAFi + MEKi","day":13,"vol":90},{"id":"q4","group":"BRAFi + MEKi","day":15,"vol":200},{"id":"q4","group":"BRAFi + MEKi","day":17,"vol":330},{"id":"q4","group":"BRAFi + MEKi","day":19,"vol":480},{"id":"q4","group":"BRAFi + MEKi","day":21,"vol":600}
    ],
    "cL": [
      {"strain":"NSG","day":0,"pct":100},{"strain":"NSG","day":49,"pct":66.7},{"strain":"NSG","day":56,"pct":50},{"strain":"NSG","day":66,"pct":33.3},{"strain":"NSG","day":75,"pct":16.7},{"strain":"NSG","day":97,"pct":16.7},
      {"strain":"C57BL/6","day":0,"pct":100},{"strain":"C57BL/6","day":92,"pct":91.7},{"strain":"C57BL/6","day":127,"pct":83.3},{"strain":"C57BL/6","day":136,"pct":75},{"strain":"C57BL/6","day":153,"pct":66.7},{"strain":"C57BL/6","day":182,"pct":58.3},{"strain":"C57BL/6","day":187,"pct":58.3}
    ],
    "cLx": [{"day":102,"pct":16.7,"label":"X"}],
    "cLs": [{"day":15.5,"pct":19,"lo":9.4,"hi":25.8,"bar":19,"label":"***"}],
    "cR": [
      {"strain":"NSG","day":0,"pct":100},{"strain":"NSG","day":16,"pct":60},{"strain":"NSG","day":20,"pct":20},{"strain":"NSG","day":23,"pct":0},
      {"strain":"C57BL/6","day":0,"pct":100},{"strain":"C57BL/6","day":45,"pct":88.9},{"strain":"C57BL/6","day":74,"pct":77.8},{"strain":"C57BL/6","day":88,"pct":66.7},{"strain":"C57BL/6","day":99,"pct":55.6},{"strain":"C57BL/6","day":120,"pct":44.4},{"strain":"C57BL/6","day":135,"pct":33.3},{"strain":"C57BL/6","day":148,"pct":22.2},{"strain":"C57BL/6","day":160,"pct":11.1}
    ],
    "cRs": [{"day":37,"pct":13.5,"lo":8.3,"hi":24.7,"bar":44,"label":"***"}]
  },
  "spacing": 21.5,
  "resolve": {"scale": {"color": "independent", "strokeDash": "independent"}, "legend": {"color": "independent", "strokeDash": "independent"}},
  "vconcat": [
    {
      "spacing": 10,
      "resolve": {"scale": {"color": "independent", "strokeDash": "independent"}, "legend": {"color": "independent", "strokeDash": "independent"}},
      "vconcat": [
        {
          "title": {"text": "A", "anchor": "start", "fontSize": 12, "fontWeight": "bold", "color": "#000", "offset": -12, "dx": 3},
          "bounds": "flush",
          "spacing": 32,
          "resolve": {"scale": {"color": "independent", "strokeDash": "independent"}, "legend": {"color": "independent", "strokeDash": "independent"}},
          "hconcat": [
            {
              "width": 299, "height": 84,
              "title": {"text": "D4M3.A in C57BL/6 mice", "offset": 9},
              "layer": [
                {
                  "data": {"name": "aL"},
                  "mark": {"type": "line", "strokeWidth": 1, "clip": true},
                  "encoding": {
                    "x": {"field": "day", "type": "quantitative", "scale": {"domain": [0, 190], "nice": false}, "axis": {"values": [0,10,20,30,40,50,60,70,80,90,100,110,120,130,140,150,160,170,180,190], "tickCount": 100, "format": "d", "labelOverlap": false, "title": "Days on BRAFi + MEKi"}},
                    "y": {"field": "vol", "type": "quantitative", "scale": {"domain": [0, 600]}, "axis": {"values": [0,200,400,600], "tickCount": 100, "format": "d", "labelOverlap": false, "title": "Tumor volume (mm³)"}},
                    "detail": {"field": "id"},
                    "color": {"field": "group", "type": "nominal", "scale": {"domain": ["Control", "BRAFi + MEKi"], "range": ["#111111", "#e2261f"]}, "legend": {"orient": "none", "legendX": 55, "legendY": 37, "title": null, "symbolStrokeWidth": 1.4}},
                    "strokeDash": {"field": "group", "type": "nominal", "scale": {"domain": ["Control", "BRAFi + MEKi"], "range": [[1, 0], [3, 2]]}, "legend": {"orient": "none", "legendX": 55, "legendY": 37, "title": null, "symbolStrokeWidth": 1.4}}
                  }
                },
                {
                  "data": {"name": "aLm"},
                  "transform": [{"filter": "datum.kind == 'cyan'"}],
                  "mark": {"type": "point", "filled": true, "shape": "triangle-up", "size": 18, "color": "#5cc3c8", "opacity": 1},
                  "encoding": {"x": {"field": "day", "type": "quantitative"}, "y": {"field": "vol", "type": "quantitative"}}
                },
                {
                  "data": {"name": "aLm"},
                  "transform": [{"filter": "datum.kind == 'blue'"}],
                  "mark": {"type": "point", "filled": true, "shape": "circle", "size": 14, "color": "#2a3590", "opacity": 1},
                  "encoding": {"x": {"field": "day", "type": "quantitative"}, "y": {"field": "vol", "type": "quantitative"}}
                }
              ]
            },
            {
              "width": 156, "height": 84,
              "title": {"text": "D4M3.A in NSG mice", "offset": 9},
              "layer": [
                {
                  "data": {"name": "aR"},
                  "mark": {"type": "line", "strokeWidth": 1, "clip": true},
                  "encoding": {
                    "x": {"field": "day", "type": "quantitative", "scale": {"domain": [0, 100], "nice": false}, "axis": {"values": [0,10,20,30,40,50,60,70,80,90,100], "tickCount": 100, "format": "d", "labelOverlap": false, "title": "Days on BRAFi + MEKi"}},
                    "y": {"field": "vol", "type": "quantitative", "scale": {"domain": [0, 600]}, "axis": {"values": [0,200,400,600], "tickCount": 100, "format": "d", "labelOverlap": false, "title": "Tumor volume (mm³)"}},
                    "detail": {"field": "id"},
                    "color": {"field": "group", "type": "nominal", "scale": {"domain": ["Control", "BRAFi + MEKi"], "range": ["#111111", "#e2261f"]}, "legend": {"orient": "none", "legendX": 13, "legendY": 37, "title": null, "symbolStrokeWidth": 1.4}},
                    "strokeDash": {"field": "group", "type": "nominal", "scale": {"domain": ["Control", "BRAFi + MEKi"], "range": [[1, 0], [3, 2]]}, "legend": {"orient": "none", "legendX": 13, "legendY": 37, "title": null, "symbolStrokeWidth": 1.4}}
                  }
                },
                {
                  "data": {"name": "aRx"},
                  "mark": {"type": "text", "fontSize": 8, "color": "#e2261f", "baseline": "middle", "align": "center"},
                  "encoding": {"x": {"field": "day", "type": "quantitative"}, "y": {"field": "vol", "type": "quantitative"}, "text": {"field": "label"}}
                }
              ]
            }
          ]
        },
        {
          "title": {"text": "B", "anchor": "start", "fontSize": 12, "fontWeight": "bold", "color": "#000", "offset": 0, "dx": 3},
          "bounds": "flush",
          "spacing": 84,
          "resolve": {"scale": {"color": "independent", "strokeDash": "independent"}, "legend": {"color": "independent", "strokeDash": "independent"}},
          "hconcat": [
            {
              "width": 248, "height": 84,
              "title": {"text": "YUMM1.7 in C57BL/6 mice", "offset": 0},
              "layer": [
                {
                  "data": {"name": "bL"},
                  "mark": {"type": "line", "strokeWidth": 1, "clip": true},
                  "encoding": {
                    "x": {"field": "day", "type": "quantitative", "scale": {"domain": [0, 160], "nice": false}, "axis": {"values": [0,10,20,30,40,50,60,70,80,90,100,110,120,130,140,150,160], "tickCount": 100, "format": "d", "labelOverlap": false, "title": "Days on BRAFi + MEKi"}},
                    "y": {"field": "vol", "type": "quantitative", "scale": {"domain": [0, 600]}, "axis": {"values": [0,200,400,600], "tickCount": 100, "format": "d", "labelOverlap": false, "title": "Tumor volume (mm³)"}},
                    "detail": {"field": "id"},
                    "color": {"field": "group", "type": "nominal", "scale": {"domain": ["Control", "BRAFi + MEKi"], "range": ["#111111", "#e2261f"]}, "legend": null},
                    "strokeDash": {"field": "group", "type": "nominal", "scale": {"domain": ["Control", "BRAFi + MEKi"], "range": [[1, 0], [3, 2]]}, "legend": null}
                  }
                },
                {
                  "data": {"name": "bLm"},
                  "transform": [{"filter": "datum.kind == 'cyan'"}],
                  "mark": {"type": "point", "filled": true, "shape": "triangle-up", "size": 18, "color": "#5cc3c8", "opacity": 1},
                  "encoding": {"x": {"field": "day", "type": "quantitative"}, "y": {"field": "vol", "type": "quantitative"}}
                },
                {
                  "data": {"name": "bLm"},
                  "transform": [{"filter": "datum.kind == 'blue'"}],
                  "mark": {"type": "point", "filled": true, "shape": "circle", "size": 14, "color": "#2a3590", "opacity": 1},
                  "encoding": {"x": {"field": "day", "type": "quantitative"}, "y": {"field": "vol", "type": "quantitative"}}
                }
              ]
            },
            {
              "width": 61, "height": 84,
              "title": {"text": "YUMM1.7 in NSG mice", "offset": 0},
              "layer": [
                {
                  "data": {"name": "bR"},
                  "mark": {"type": "line", "strokeWidth": 1, "clip": true},
                  "encoding": {
                    "x": {"field": "day", "type": "quantitative", "scale": {"domain": [0, 40], "nice": false}, "axis": {"values": [0,10,20,30,40], "tickCount": 100, "format": "d", "labelOverlap": false, "title": "Days on BRAFi + MEKi"}},
                    "y": {"field": "vol", "type": "quantitative", "scale": {"domain": [0, 600]}, "axis": {"values": [0,200,400,600], "tickCount": 100, "format": "d", "labelOverlap": false, "title": "Tumor volume (mm³)"}},
                    "detail": {"field": "id"},
                    "color": {"field": "group", "type": "nominal", "scale": {"domain": ["Control", "BRAFi + MEKi"], "range": ["#111111", "#e2261f"]}, "legend": null},
                    "strokeDash": {"field": "group", "type": "nominal", "scale": {"domain": ["Control", "BRAFi + MEKi"], "range": [[1, 0], [3, 2]]}, "legend": null}
                  }
                }
              ]
            }
          ]
        }
      ]
    },
    {
      "title": {"text": "C", "anchor": "start", "fontSize": 12, "fontWeight": "bold", "color": "#000", "offset": -8, "dx": 3},
      "bounds": "flush",
      "spacing": 52,
      "resolve": {"scale": {"color": "independent"}, "legend": {"color": "independent"}},
      "hconcat": [
        {
          "width": 200, "height": 88,
          "title": {"text": "D4M3.A on BRAFi + MEKi", "offset": 1.5},
          "layer": [
            {
              "data": {"name": "cL"},
              "mark": {"type": "line", "interpolate": "step-after", "strokeWidth": 1.4},
              "encoding": {
                "x": {"field": "day", "type": "quantitative", "scale": {"domain": [0, 190], "nice": false}, "axis": {"values": [0,30,60,90,120,150,180], "tickCount": 100, "format": "d", "labelOverlap": false, "titlePadding": 2, "title": "Days on BRAFi + MEKi"}},
                "y": {"field": "pct", "type": "quantitative", "scale": {"domain": [0, 100]}, "axis": {"values": [0,20,40,60,80,100], "tickCount": 100, "format": "d", "labelOverlap": false, "title": "Percent survival"}},
                "color": {"field": "strain", "type": "nominal", "scale": {"domain": ["C57BL/6", "NSG"], "range": ["#b89c72", "#93479f"]}, "legend": {"orient": "none", "legendX": 24, "legendY": 60, "title": null, "symbolStrokeWidth": 1.5, "rowPadding": 4}}
              }
            },
            {
              "data": {"name": "cLx"},
              "mark": {"type": "text", "fontSize": 8, "color": "#93479f", "baseline": "middle", "align": "center"},
              "encoding": {"x": {"field": "day", "type": "quantitative"}, "y": {"field": "pct", "type": "quantitative"}, "text": {"field": "label"}}
            },
            {
              "data": {"name": "cLs"},
              "mark": {"type": "text", "fontSize": 7, "color": "#111", "baseline": "middle", "align": "center"},
              "encoding": {"x": {"field": "day", "type": "quantitative"}, "y": {"field": "pct", "type": "quantitative"}, "text": {"field": "label"}}
            },
            {
              "data": {"name": "cLs"},
              "mark": {"type": "rule", "color": "#111", "strokeWidth": 1.5},
              "encoding": {"x": {"field": "bar", "type": "quantitative"}, "y": {"field": "lo", "type": "quantitative"}, "y2": {"field": "hi"}}
            }
          ]
        },
        {
          "width": 171, "height": 88,
          "title": {"text": "YUMM1.7 on BRAFi + MEKi", "offset": 1.5},
          "layer": [
            {
              "data": {"name": "cR"},
              "mark": {"type": "line", "interpolate": "step-after", "strokeWidth": 1.4},
              "encoding": {
                "x": {"field": "day", "type": "quantitative", "scale": {"domain": [0, 160], "nice": false}, "axis": {"values": [0,20,40,60,80,100,120,140,160], "tickCount": 100, "format": "d", "labelOverlap": false, "titlePadding": 2, "title": "Days on BRAFi + MEKi"}},
                "y": {"field": "pct", "type": "quantitative", "scale": {"domain": [0, 100]}, "axis": {"values": [0,20,40,60,80,100], "tickCount": 100, "format": "d", "labelOverlap": false, "title": "Percent survival"}},
                "color": {"field": "strain", "type": "nominal", "scale": {"domain": ["C57BL/6", "NSG"], "range": ["#b89c72", "#93479f"]}, "legend": {"orient": "none", "legendX": 51, "legendY": 61, "title": null, "symbolStrokeWidth": 1.5, "rowPadding": 4}}
              }
            },
            {
              "data": {"name": "cRs"},
              "mark": {"type": "text", "fontSize": 7, "color": "#111", "baseline": "middle", "align": "center"},
              "encoding": {"x": {"field": "day", "type": "quantitative"}, "y": {"field": "pct", "type": "quantitative"}, "text": {"field": "label"}}
            },
            {
              "data": {"name": "cRs"},
              "mark": {"type": "rule", "color": "#111", "strokeWidth": 1.5},
              "encoding": {"x": {"field": "bar", "type": "quantitative"}, "y": {"field": "lo", "type": "quantitative"}, "y2": {"field": "hi"}}
            }
          ]
        }
      ]
    }
  ]
}
